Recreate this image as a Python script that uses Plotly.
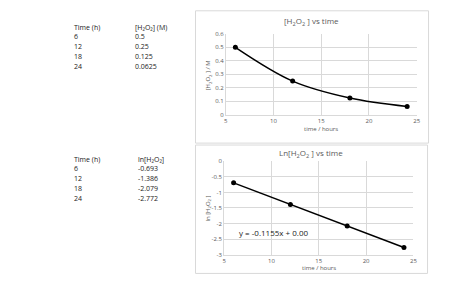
import plotly.graph_objects as go

time_h = [6, 12, 18, 24]
conc = [0.5, 0.25, 0.125, 0.0625]
ln_conc = [-0.693, -1.386, -2.079, -2.772]
conc_labels = ["0.5", "0.25", "0.125", "0.0625"]
ln_labels = ["-0.693", "-1.386", "-2.079", "-2.772"]
eq_text = "y = -0.1155x + 0.00"

W, H = 474, 293
def px(x): return x / W
def py(y): return 1 - y / H

fig = go.Figure()
fig.add_trace(go.Scatter(x=time_h, y=conc, mode="lines+markers", line=dict(color="black", width=1.5, shape="spline"),
                         marker=dict(color="black", size=5), xaxis="x", yaxis="y", showlegend=False))
fig.add_trace(go.Scatter(x=time_h, y=ln_conc, mode="lines+markers", line=dict(color="black", width=1.5),
                         marker=dict(color="black", size=5), xaxis="x2", yaxis="y2", showlegend=False))

tickfont = dict(family="Open Sans, Arial", size=6, color="#595959")
grid = "#d9d9d9"
ax = dict(showgrid=True, gridcolor=grid, gridwidth=1, zeroline=False, showline=True, linecolor=grid,
          tickfont=tickfont, ticks="", mirror=False)

fig.update_layout(
    width=W, height=H, margin=dict(l=0, r=0, t=0, b=0),
    paper_bgcolor="white", plot_bgcolor="white",
    xaxis=dict(ax, domain=[px(226.7), px(420)], range=[5, 25], dtick=5, anchor="y"),
    yaxis=dict(ax, domain=[py(114), py(30.7)], range=[0, 0.6], anchor="x",
               tickvals=[0, 0.1, 0.2, 0.3, 0.4, 0.5, 0.6], ticktext=["0", "0.1", "0.2", "0.3", "0.4", "0.5", "0.6"]),
    xaxis2=dict(ax, domain=[px(225), px(416.7)], range=[5, 25], dtick=5, anchor="y2"),
    yaxis2=dict(ax, domain=[py(257.7), py(161.7)], range=[-3, 0], anchor="x2",
                tickvals=[0, -0.5, -1, -1.5, -2, -2.5, -3], ticktext=["0", "-0.5", "-1", "-1.5", "-2", "-2.5", "-3"]),
)

shapes = []
for (x0, y0, x1, y1) in [(196, 7, 432, 143), (196, 145, 431, 277)]:
    shapes.append(dict(type="rect", xref="paper", yref="paper", x0=px(x0), x1=px(x1), y0=py(y1), y1=py(y0),
                       line=dict(color="#d9d9d9", width=1), fillcolor="rgba(0,0,0,0)", layer="below"))
fig.update_layout(shapes=shapes)

ann = []
def txt(x, y, s, size=7, color="#222222", xanchor="left", angle=0, fam="Open Sans, Arial"):
    ann.append(dict(x=px(x), y=py(y), xref="paper", yref="paper", text=s, showarrow=False,
                    xanchor=xanchor, yanchor="middle", textangle=angle,
                    font=dict(size=size, color=color, family=fam)))

# table 1
tab_rows1 = [24, 33.5, 43.5, 54, 64.5]
txt(71, tab_rows1[0], "Time (h)")
txt(133, tab_rows1[0], "[H₂O₂] (M)")
for i, t in enumerate(time_h):
    txt(71, tab_rows1[i + 1], str(t))
    txt(133, tab_rows1[i + 1], conc_labels[i])
# table 2
tab_rows2 = [159.5, 169.5, 179.5, 190, 200]
txt(71, tab_rows2[0], "Time (h)")
txt(136, tab_rows2[0], "ln[H₂O₂]")
for i, t in enumerate(time_h):
    txt(71, tab_rows2[i + 1], str(t))
    txt(136, tab_rows2[i + 1], ln_labels[i])

# chart titles
txt(313, 18, "[H<sub>2</sub>O<sub>2</sub> ] vs time", size=8, color="#595959", xanchor="center")
txt(313, 154, "Ln[H<sub>2</sub>O<sub>2</sub> ] vs time", size=8, color="#595959", xanchor="center")
# axis titles
txt(323, 128.5, "time / hours", size=6, color="#595959", xanchor="center")
txt(321, 271.5, "time / hours", size=6, color="#595959", xanchor="center")
txt(209, 73, "[H<sub>2</sub>O<sub>2</sub> ] / M", size=6, color="#595959", xanchor="center", angle=-90)
txt(209, 210, "ln [H<sub>2</sub>O<sub>2</sub> ]", size=6, color="#595959", xanchor="center", angle=-90)
# equation
txt(238, 235, eq_text, size=8, color="#222222")

fig.update_layout(annotations=ann)
fig.write_html("out.html")
